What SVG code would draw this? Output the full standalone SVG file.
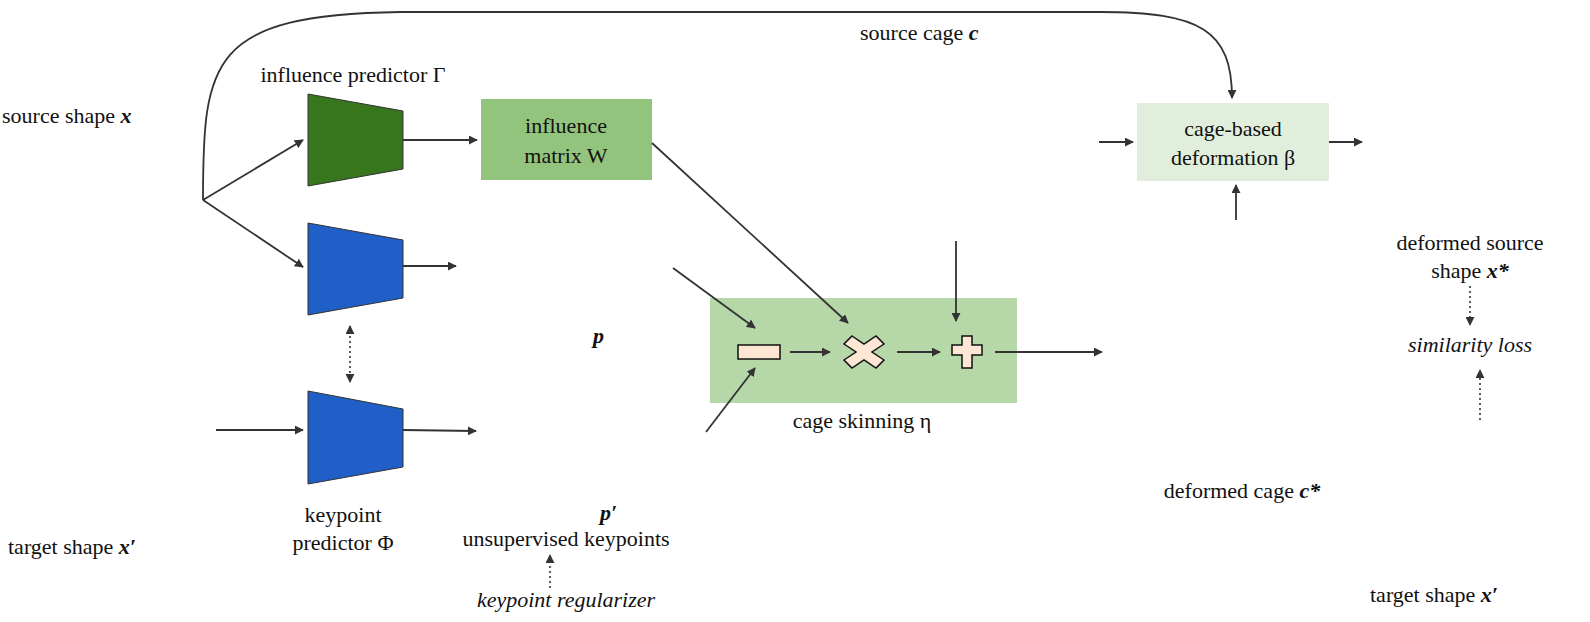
<svg xmlns="http://www.w3.org/2000/svg" width="1590" height="622" viewBox="0 0 1590 622">
<style>
text{font-family:"Liberation Serif",serif;font-size:22px;fill:#111}
.c{text-anchor:middle}
.l{stroke:#333;stroke-width:1.8;fill:none;marker-end:url(#a)}
.d{stroke:#333;stroke-width:1.6;fill:none;stroke-dasharray:2,3;marker-end:url(#a)}
.op{fill:#fde6d3;stroke:#111;stroke-width:1.5}
</style>
<defs><marker id="a" viewBox="0 0 10 10" refX="9" refY="5" markerWidth="9" markerHeight="9" orient="auto-start-reverse" markerUnits="userSpaceOnUse"><path d="M0,0L10,5L0,10z" fill="#333"/></marker></defs>
<rect width="1590" height="622" fill="#fff"/>
<g id="gamma"><polygon points="308,94 403,111 403,169 308,186" fill="#38761d" stroke="#333" stroke-width="1"/><text x="353" y="82" class="c">influence predictor Γ</text></g>
<g id="phi1"><polygon points="308,223 403,240 403,298 308,315" fill="#1f5fc7" stroke="#333" stroke-width="1"/></g>
<g id="phi2"><polygon points="308,391 403,409 403,467 308,484" fill="#1f5fc7" stroke="#333" stroke-width="1"/><text x="343" y="522" class="c">keypoint</text><text x="343" y="550" class="c">predictor Φ</text></g>
<g id="W"><rect x="481" y="99" width="171" height="81" fill="#93c47d"/><text x="566" y="133" class="c">influence</text><text x="566" y="163" class="c">matrix W</text></g>
<g id="beta"><rect x="1137" y="103" width="192" height="78" fill="#d9ead3" opacity="0.8"/><text x="1233" y="136" class="c">cage-based</text><text x="1233" y="165" class="c">deformation β</text></g>
<g id="eta"><rect x="710" y="298" width="307" height="105" fill="#b6d7a8"/>
<rect x="738" y="345" width="42" height="14" class="op"/>
<path d="M852,340 L864,348 L876,340 L884,348 L872,356 L884,364 L876,372 L864,364 L852,372 L844,364 L856,356 L844,348 Z" class="op" transform="translate(0,-4)"/>
<path d="M962,336 H972 V345 H982 V355 H972 V368 H962 V355 H952 V345 H962 Z" class="op"/>
<text x="862" y="428" class="c">cage skinning η</text></g>
<g id="labels">
<text x="2" y="123">source shape <tspan font-weight="bold" font-style="italic">x</tspan></text>
<text x="860" y="40">source cage <tspan font-weight="bold" font-style="italic">c</tspan></text>
<text x="1470" y="250" class="c">deformed source</text>
<text x="1470" y="278" class="c">shape <tspan font-weight="bold" font-style="italic">x*</tspan></text>
<text x="1470" y="352" class="c" font-style="italic">similarity loss</text>
<text x="593" y="343" font-weight="bold" font-style="italic">p</text>
<text x="600" y="520" font-weight="bold" font-style="italic">p′</text>
<text x="566" y="546" class="c">unsupervised keypoints</text>
<text x="566" y="607" class="c" font-style="italic">keypoint regularizer</text>
<text x="1242" y="498" class="c">deformed cage <tspan font-weight="bold" font-style="italic">c*</tspan></text>
<text x="8" y="554">target shape <tspan font-weight="bold" font-style="italic">x′</tspan></text>
<text x="1370" y="602">target shape <tspan font-weight="bold" font-style="italic">x′</tspan></text>
</g>
<g id="connectors">
<path class="l" d="M203,200 C203,60 210,15 400,12 L1100,12 C1200,12 1232,30 1232,98"/>
<path class="l" d="M203,200 L303,140"/>
<path class="l" d="M203,200 L303,267"/>
<path class="l" d="M403,140 L477,140"/>
<path class="l" d="M403,266 L456,266"/>
<path class="l" d="M216,430 L303,430"/>
<path class="l" d="M403,430 L476,431"/>
<path class="d" d="M350,326 L350,382" marker-start="url(#a)"/>
<path class="l" d="M652,143 L848,323"/>
<path class="l" d="M673,268 L755,328"/>
<path class="l" d="M706,432 L755,368"/>
<path class="l" d="M790,352 L830,352"/>
<path class="l" d="M897,352 L940,352"/>
<path class="l" d="M956,241 L956,321"/>
<path class="l" d="M995,352 L1102,352"/>
<path class="l" d="M1099,142 L1133,142"/>
<path class="l" d="M1329,142 L1362,142"/>
<path class="l" d="M1236,220 L1236,185"/>
<path class="d" d="M1470,286 L1470,325"/>
<path class="d" d="M1480,420 L1480,370"/>
<path class="d" d="M550,588 L550,555"/>
</g>
</svg>
